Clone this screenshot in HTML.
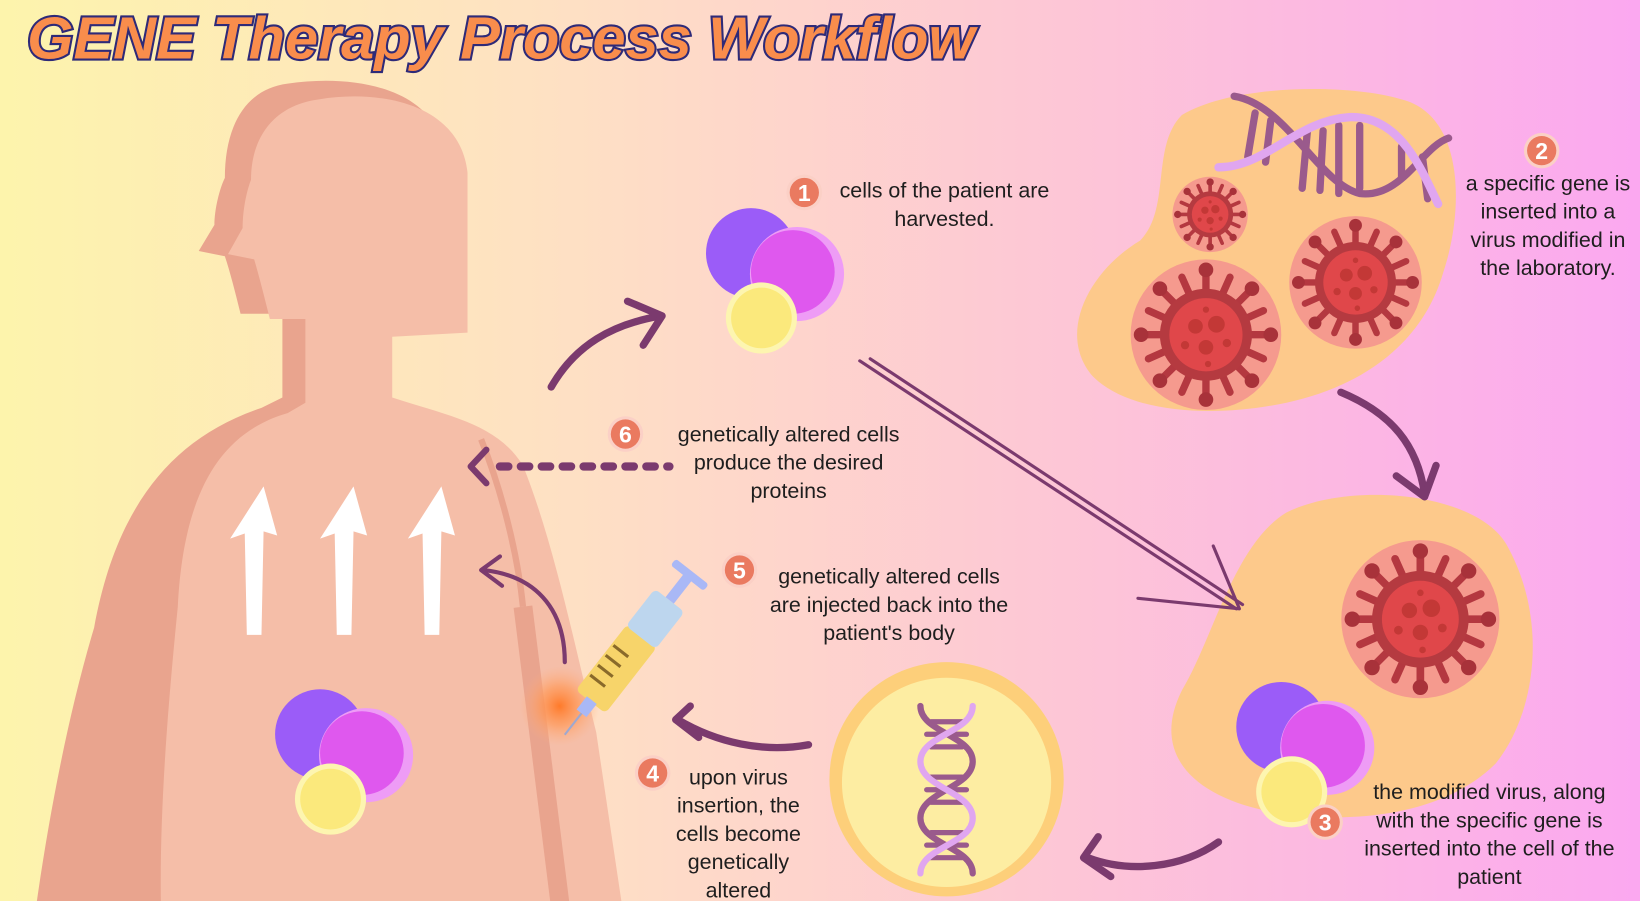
<!DOCTYPE html>
<html><head><meta charset="utf-8"><style>
html,body{margin:0;padding:0}
body{width:1640px;height:901px;overflow:hidden}
svg text{font-family:"Comic Sans MS","Liberation Sans",sans-serif}
</style></head><body>
<svg width="1640" height="901" viewBox="0 0 1568 861.4" preserveAspectRatio="none" xmlns="http://www.w3.org/2000/svg">
<defs>
<linearGradient id="bg" x1="0" x2="1" y1="0" y2="0">
<stop offset="0" stop-color="#fdf4ac"/><stop offset="0.35" stop-color="#fee0c4"/><stop offset="0.65" stop-color="#fdc6d6"/><stop offset="1" stop-color="#fba8f0"/>
</linearGradient>
<radialGradient id="glow"><stop offset="0" stop-color="#ff7a2a"/><stop offset="0.5" stop-color="#ff9a5a" stop-opacity="0.7"/><stop offset="1" stop-color="#ffb080" stop-opacity="0"/></radialGradient>
<g id="virus">
<circle r="72" fill="#f59a8e"/>
<g stroke="#b43840" stroke-width="7" stroke-linecap="round">
<line x1="0" y1="-40" x2="0" y2="-60"/><line x1="0" y1="40" x2="0" y2="60"/><line x1="-40" y1="0" x2="-60" y2="0"/><line x1="40" y1="0" x2="60" y2="0"/>
<line x1="28" y1="28" x2="42" y2="42"/><line x1="-28" y1="28" x2="-42" y2="42"/><line x1="28" y1="-28" x2="42" y2="-42"/><line x1="-28" y1="-28" x2="-42" y2="-42"/>
<line x1="15" y1="-37" x2="23" y2="-55"/><line x1="-15" y1="37" x2="-23" y2="55"/><line x1="37" y1="15" x2="55" y2="23"/><line x1="-37" y1="-15" x2="-55" y2="-23"/>
<line x1="-15" y1="-37" x2="-23" y2="-55"/><line x1="15" y1="37" x2="23" y2="55"/><line x1="37" y1="-15" x2="55" y2="-23"/><line x1="-37" y1="15" x2="-55" y2="23"/>
</g>
<g fill="#a8323a"><circle cx="0" cy="-62" r="7"/><circle cx="0" cy="62" r="7"/><circle cx="62" cy="0" r="7"/><circle cx="-62" cy="0" r="7"/><circle cx="44" cy="44" r="7"/><circle cx="-44" cy="44" r="7"/><circle cx="44" cy="-44" r="7"/><circle cx="-44" cy="-44" r="7"/></g>
<circle r="44" fill="#b53a40"/>
<circle r="35" fill="#e0474a"/>
<g fill="#c33836"><circle cx="-10" cy="-8" r="7"/><circle cx="10" cy="-10" r="8"/><circle cx="0" cy="12" r="7"/><circle cx="-20" cy="10" r="4"/><circle cx="20" cy="8" r="4"/><circle cx="0" cy="-24" r="3"/><circle cx="2" cy="28" r="3"/></g>
</g>
<g id="cells">
<circle cx="0" cy="0" r="43" fill="#9b5cf8"/>
<circle cx="44" cy="20" r="45" fill="#ee9cf6"/>
<circle cx="40" cy="18" r="40" fill="#df58ee"/>
<circle cx="10" cy="62" r="34" fill="#fdf5b0"/>
<circle cx="10" cy="62" r="29" fill="#fbe97c"/>
</g>
<g id="badge"><circle r="17" fill="#fbd0c6"/><circle r="14" fill="#ea7a60"/></g>
</defs>
<rect width="1568" height="862" fill="url(#bg)"/>

<!-- body shadow -->
<path d="M275 80 C340 70 420 85 425 150 L425 300 L350 322 L350 380 C400 400 450 400 470 440 C500 520 520 620 540 700 L570 901 L30 901 C40 820 60 700 90 600 C110 490 160 420 250 390 L270 380 L270 300 L230 300 C225 280 220 260 215 245 L190 240 L205 215 C205 200 210 180 215 170 C215 120 235 85 275 80 Z" fill="#e9a48e"/>
<!-- body -->
<path d="M305 95 C365 85 440 100 447 165 L447 318 L375 322 L375 380 C430 398 475 405 500 445 C530 520 550 620 570 700 L600 901 L155 901 C150 800 160 680 170 580 C175 480 205 415 275 395 L292 385 L292 305 L258 305 C253 285 248 265 243 248 L218 243 L232 218 C232 200 236 182 240 172 C240 128 265 100 305 95 Z" fill="#f5bea8"/>
<path d="M500 580 L540 901" stroke="#e9a48e" stroke-width="18"/>
<path d="M460 420 C480 470 495 530 500 580" stroke="#e9a48e" stroke-width="6" fill="none"/>

<!-- white arrows -->
<g fill="#ffffff">
<path d="M236 607 L234 510 L220 515 L252 465 L265 512 L252 508 L250 607 Z"/>
<path d="M322 607 L320 510 L306 515 L338 465 L351 512 L338 508 L336 607 Z"/>
<path d="M406 607 L404 510 L390 515 L422 465 L435 512 L422 508 L420 607 Z"/>
</g>

<circle cx="535" cy="675" r="38" fill="url(#glow)"/>

<use href="#cells" x="306" y="702"/>
<use href="#cells" x="718" y="242"/>

<!-- blobs -->
<path d="M1130 110 C1180 80 1290 80 1340 95 C1400 110 1400 200 1380 260 C1360 330 1300 370 1230 385 C1160 400 1080 395 1045 360 C1010 320 1040 260 1090 230 C1120 200 1100 140 1130 110 Z" fill="#fdc98b"/>
<path d="M1230 490 C1290 460 1410 470 1440 520 C1480 590 1470 680 1430 730 C1380 780 1290 790 1210 775 C1140 760 1100 720 1130 660 C1160 610 1180 520 1230 490 Z" fill="#fdc98b"/>

<!-- DNA top -->
<g stroke="#9a5a8c" stroke-width="7" stroke-linecap="round" fill="none">
<path d="M1180 92 C1230 100 1260 175 1300 185 C1340 190 1360 140 1385 132"/>
<line x1="1200" y1="108" x2="1193" y2="150"/><line x1="1215" y1="115" x2="1210" y2="155"/><line x1="1250" y1="125" x2="1245" y2="180"/><line x1="1265" y1="125" x2="1262" y2="182"/><line x1="1280" y1="120" x2="1280" y2="185"/><line x1="1300" y1="120" x2="1300" y2="180"/><line x1="1340" y1="140" x2="1340" y2="170"/><line x1="1360" y1="150" x2="1365" y2="190"/>
</g>
<path d="M1165 160 C1210 160 1240 115 1290 112 C1340 110 1360 165 1375 195" stroke="#e0a6f0" stroke-width="8" stroke-linecap="round" fill="none"/>

<use href="#virus" transform="translate(1157,205) scale(0.5)"/>
<use href="#virus" transform="translate(1153,320)"/>
<use href="#virus" transform="translate(1296,270) scale(0.88)"/>
<use href="#virus" transform="translate(1358,592) scale(1.05)"/>
<use href="#cells" x="1225" y="695"/>

<!-- DNA circle -->
<circle cx="905" cy="745" r="112" fill="#fdcf7a"/>
<circle cx="905" cy="748" r="100" fill="#fdeda2"/>
<g stroke="#9a5a8c" stroke-width="5" stroke-linecap="round">
<line x1="890" y1="690" x2="920" y2="690"/><line x1="886" y1="702" x2="924" y2="702"/><line x1="890" y1="714" x2="920" y2="714"/>
<line x1="890" y1="743" x2="920" y2="743"/><line x1="886" y1="755" x2="924" y2="755"/><line x1="890" y1="767" x2="920" y2="767"/>
<line x1="890" y1="796" x2="920" y2="796"/><line x1="886" y1="808" x2="924" y2="808"/><line x1="890" y1="820" x2="920" y2="820"/>
</g>
<path d="M880 675 C880 700 930 703 930 728 C930 753 880 757 880 782 C880 807 930 810 930 835" stroke="#9a5a8c" stroke-width="6" stroke-linecap="round" fill="none"/>
<path d="M930 675 C930 700 880 703 880 728 C880 753 930 757 930 782 C930 807 880 810 880 835" stroke="#e0a6f0" stroke-width="6" stroke-linecap="round" fill="none"/>

<!-- syringe -->
<g transform="translate(620,600) rotate(-52)">
<rect x="-90" y="-18" width="80" height="36" rx="5" fill="#f7d46a"/>
<rect x="-12" y="-18" width="45" height="36" rx="5" fill="#bdd6ee"/>
<rect x="33" y="-5" width="30" height="10" fill="#a9b8f6"/>
<rect x="60" y="-20" width="8" height="40" rx="3" fill="#a9b8f6"/>
<rect x="-104" y="-6" width="16" height="12" fill="#a9b8f6"/>
<line x1="-104" y1="0" x2="-130" y2="0" stroke="#9fa8d0" stroke-width="2"/>
<g stroke="#8a6a2a" stroke-width="3"><line x1="-70" y1="-16" x2="-70" y2="2"/><line x1="-58" y1="-16" x2="-58" y2="2"/><line x1="-46" y1="-16" x2="-46" y2="2"/><line x1="-34" y1="-16" x2="-34" y2="2"/></g>
</g>

<!-- arrows -->
<g stroke="#7b3a6e" fill="none" stroke-linecap="round" stroke-linejoin="round">
<path d="M527 370 C550 330 585 310 632 302" stroke-width="7"/>
<path d="M600 288 L633 302 L615 330" stroke-width="7"/>
<path d="M822 345 L1182 582" stroke-width="3"/>
<path d="M832 343 L1188 578" stroke-width="3"/>
<path d="M1088 572 L1185 582 L1160 522" stroke-width="3"/>
<path d="M1282 375 C1330 395 1355 425 1362 472" stroke-width="7"/>
<path d="M1335 455 L1362 475 L1373 445" stroke-width="7"/>
<path d="M1165 805 C1130 830 1080 835 1040 820" stroke-width="7"/>
<path d="M1050 800 L1036 820 L1062 838" stroke-width="7"/>
<path d="M773 712 C730 720 685 710 648 688" stroke-width="7"/>
<path d="M660 675 L646 688 L668 705" stroke-width="7"/>
<path d="M540 633 C540 580 510 550 462 545" stroke-width="4"/>
<path d="M478 532 L460 545 L480 560" stroke-width="4"/>
<path d="M465 430 L450 446 L465 462" stroke-width="6"/>
<path d="M478 446 L640 446" stroke-width="8" stroke-dasharray="8 12"/>
</g>

<!-- title -->
<text x="26" y="56" font-family="Liberation Serif,serif" font-weight="bold" font-style="italic" font-size="57" fill="#f98d4c" stroke="#2e2a78" stroke-width="4" paint-order="stroke" textLength="906" lengthAdjust="spacingAndGlyphs">GENE Therapy Process Workflow</text>

<!-- badges -->
<g font-family="Liberation Serif,serif" font-weight="bold" font-size="22" fill="#fff" text-anchor="middle">
<use href="#badge" x="769" y="184"/><text x="769" y="192">1</text>
<use href="#badge" x="1474" y="144"/><text x="1474" y="152">2</text>
<use href="#badge" x="1267" y="786"/><text x="1267" y="794">3</text>
<use href="#badge" x="624" y="739"/><text x="624" y="747">4</text>
<use href="#badge" x="707" y="545"/><text x="707" y="553">5</text>
<use href="#badge" x="598" y="415"/><text x="598" y="423">6</text>
</g>

<g font-size="20.5" fill="#1e1e1e" text-anchor="middle">
<text x="903" y="189">cells of the patient are</text>
<text x="903" y="216">harvested.</text>
<text x="1480" y="182">a specific gene is</text>
<text x="1480" y="209">inserted into a</text>
<text x="1480" y="236">virus modified in</text>
<text x="1480" y="263">the laboratory.</text>
<text x="754" y="422">genetically altered cells</text>
<text x="754" y="449">produce the desired</text>
<text x="754" y="476">proteins</text>
<text x="850" y="558">genetically altered cells</text>
<text x="850" y="585">are injected back into the</text>
<text x="850" y="612">patient's body</text>
<text x="706" y="750">upon virus</text>
<text x="706" y="777">insertion, the</text>
<text x="706" y="804">cells become</text>
<text x="706" y="831">genetically</text>
<text x="706" y="858">altered</text>
<text x="1424" y="764">the modified virus, along</text>
<text x="1424" y="791">with the specific gene is</text>
<text x="1424" y="818">inserted into the cell of the</text>
<text x="1424" y="845">patient</text>
</g>
</svg>
</body></html>
